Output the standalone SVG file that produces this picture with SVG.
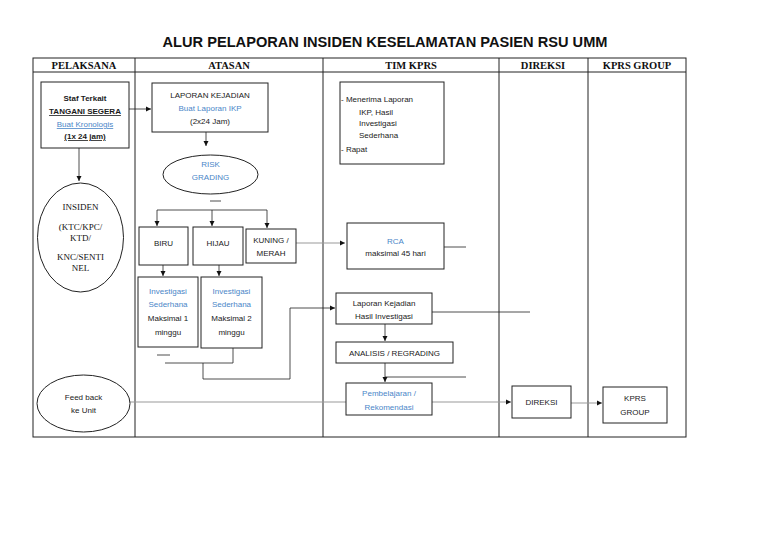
<svg xmlns="http://www.w3.org/2000/svg" width="768" height="543" viewBox="0 0 768 543">
<style>
.t{font-family:"Liberation Sans",Arial,sans-serif;font-size:8px;fill:#1a1a1a;text-anchor:middle}
.s{text-anchor:start}
.b{fill:#4a86c8}
.bold{font-weight:bold}
.hd{font-family:"Liberation Serif","Times New Roman",serif;font-size:10.5px;font-weight:bold;fill:#111;text-anchor:middle}
.sr{font-family:"Liberation Serif","Times New Roman",serif;font-size:9px;fill:#111;text-anchor:middle}
.box{fill:#fff;stroke:#222;stroke-width:1}
.grid{fill:none;stroke:#222;stroke-width:1}
.ln{fill:none;stroke:#222;stroke-width:0.8}
.gl{fill:none;stroke:#999;stroke-width:1}
</style>
<defs>
<marker id="ah" markerWidth="6" markerHeight="6" refX="5" refY="3" orient="auto" markerUnits="userSpaceOnUse">
<path d="M0,0.5 L5,3 L0,5.5 z" fill="#111"/>
</marker>
</defs>
<rect width="768" height="543" fill="#fff"/>
<text x="385" y="47" font-family="'Liberation Sans',Arial,sans-serif" font-size="14" font-weight="bold" fill="#111" text-anchor="middle" textLength="445" lengthAdjust="spacingAndGlyphs">ALUR PELAPORAN INSIDEN KESELAMATAN PASIEN RSU UMM</text>
<g id="table">
<rect class="grid" x="33" y="58" width="653" height="379"/>
<line class="grid" x1="33" y1="72" x2="686" y2="72"/>
<line class="grid" x1="135" y1="58" x2="135" y2="437"/>
<line class="grid" x1="323" y1="58" x2="323" y2="437"/>
<line class="grid" x1="499" y1="58" x2="499" y2="437"/>
<line class="grid" x1="588" y1="58" x2="588" y2="437"/>
<text class="hd" x="84" y="69">PELAKSANA</text>
<text class="hd" x="229" y="69">ATASAN</text>
<text class="hd" x="411" y="69">TIM KPRS</text>
<text class="hd" x="543" y="69">DIREKSI</text>
<text class="hd" x="637" y="69">KPRS GROUP</text>
</g>
<g id="connectors">
<line class="ln" x1="129" y1="109" x2="151" y2="109" marker-end="url(#ah)"/>
<line class="ln" x1="206" y1="132" x2="206" y2="146" marker-end="url(#ah)"/>
<line class="ln" x1="79" y1="148" x2="79" y2="181" marker-end="url(#ah)"/>
<line class="ln" x1="210" y1="201" x2="221" y2="201"/>
<line class="ln" x1="157" y1="210" x2="267" y2="210"/>
<line class="ln" x1="157" y1="210" x2="157" y2="226" marker-end="url(#ah)"/>
<line class="ln" x1="212" y1="210" x2="212" y2="226" marker-end="url(#ah)"/>
<line class="ln" x1="267" y1="210" x2="267" y2="228" marker-end="url(#ah)"/>
<line class="gl" x1="296" y1="243" x2="345" y2="243" marker-end="url(#ah)"/>
<line class="ln" x1="444" y1="247" x2="466" y2="247"/>
<line class="ln" x1="163" y1="265" x2="163" y2="276" marker-end="url(#ah)"/>
<line class="ln" x1="219" y1="265" x2="219" y2="276" marker-end="url(#ah)"/>
<line class="ln" x1="157" y1="355" x2="170" y2="355"/>
<polyline class="ln" points="233,348 233,363 165,363"/>
<polyline class="ln" points="203,363 203,379 290,379 290,308 335,308" marker-end="url(#ah)"/>
<line class="ln" x1="402" y1="312" x2="530" y2="312"/>
<line class="ln" x1="385" y1="324" x2="385" y2="341" marker-end="url(#ah)"/>
<line class="ln" x1="385" y1="363" x2="385" y2="382" marker-end="url(#ah)"/>
<line class="ln" x1="385" y1="377" x2="466" y2="377"/>
<line class="gl" x1="130" y1="402" x2="346" y2="402"/>
<line class="gl" x1="432" y1="402" x2="511" y2="402" marker-end="url(#ah)"/>
<line class="gl" x1="571" y1="403" x2="602" y2="403" marker-end="url(#ah)"/>
</g>
<g id="staf">
<rect class="box" x="41" y="82" width="88" height="66"/>
<text class="t bold" x="85" y="101">Staf Terkait</text>
<text class="t bold" x="85" y="114" text-decoration="underline">TANGANI SEGERA</text>
<text class="t b" x="85" y="127" text-decoration="underline">Buat Kronologis</text>
<text class="t bold" x="85" y="139" text-decoration="underline">(1x 24 jam)</text>
</g>
<g id="laporan">
<rect class="box" x="152" y="83" width="116" height="49"/>
<text class="t" x="210" y="98">LAPORAN KEJADIAN</text>
<text class="t b" x="210" y="111">Buat Laporan IKP</text>
<text class="t" x="210" y="124">(2x24 Jam)</text>
</g>
<g id="risk">
<ellipse class="box" cx="210.5" cy="174.5" rx="47.5" ry="19.5"/>
<text class="t b" x="210.5" y="167">RISK</text>
<text class="t b" x="210.5" y="180">GRADING</text>
</g>
<g id="insiden">
<ellipse class="box" cx="80.5" cy="237.5" rx="43" ry="54.5"/>
<text class="sr" x="80.5" y="210">INSIDEN</text>
<text class="sr" x="80.5" y="230">(KTC/KPC/</text>
<text class="sr" x="80.5" y="241">KTD/</text>
<text class="sr" x="80.5" y="260">KNC/SENTI</text>
<text class="sr" x="80.5" y="271">NEL</text>
</g>
<g id="biru">
<rect class="box" x="139" y="227" width="49" height="38"/>
<text class="t" x="163.5" y="246">BIRU</text>
</g>
<g id="hijau">
<rect class="box" x="193" y="227" width="50" height="38"/>
<text class="t" x="218" y="246">HIJAU</text>
</g>
<g id="kuning">
<rect class="box" x="246" y="229" width="50" height="34"/>
<text class="t" x="271" y="243">KUNING /</text>
<text class="t" x="271" y="256">MERAH</text>
</g>
<g id="inv1">
<rect class="box" x="138" y="277" width="60" height="70"/>
<text class="t b" x="168" y="294">Investigasi</text>
<text class="t b" x="168" y="307">Sederhana</text>
<text class="t" x="168" y="321">Maksimal 1</text>
<text class="t" x="168" y="335">minggu</text>
</g>
<g id="inv2">
<rect class="box" x="201" y="277" width="61" height="71"/>
<text class="t b" x="231.5" y="294">Investigasi</text>
<text class="t b" x="231.5" y="307">Sederhana</text>
<text class="t" x="231.5" y="321">Maksimal 2</text>
<text class="t" x="231.5" y="335">minggu</text>
</g>
<g id="feedback">
<ellipse class="box" cx="83.5" cy="403.5" rx="46.5" ry="28.5"/>
<text class="t" x="83.5" y="400">Feed back</text>
<text class="t" x="83.5" y="413">ke Unit</text>
</g>
<g id="timkprs">
<rect class="box" x="340" y="82" width="104" height="82"/>
<text class="t s" x="341" y="102">- Menerima Laporan</text>
<text class="t s" x="359" y="115">IKP, Hasil</text>
<text class="t s" x="359" y="126">Investigasi</text>
<text class="t s" x="359" y="138">Sederhana</text>
<text class="t s" x="341" y="152">- Rapat</text>
</g>
<g id="rca">
<rect class="box" x="347" y="223" width="97" height="46"/>
<text class="t b" x="395.5" y="244">RCA</text>
<text class="t" x="395.5" y="256">maksimal 45 hari</text>
</g>
<g id="hasil">
<rect class="box" x="336" y="293" width="96" height="31"/>
<text class="t" x="384" y="306">Laporan Kejadian</text>
<text class="t" x="384" y="319">Hasil Investigasi</text>
</g>
<g id="analisis">
<rect class="box" x="336" y="342" width="117" height="21"/>
<text class="t" x="394.5" y="356">ANALISIS / REGRADING</text>
</g>
<g id="pembelajaran">
<rect class="box" x="346" y="383" width="86" height="32"/>
<text class="t b" x="389" y="396">Pembelajaran /</text>
<text class="t b" x="389" y="410">Rekomendasi</text>
</g>
<g id="direksi">
<rect class="box" x="512" y="386" width="59" height="32"/>
<text class="t" x="541.5" y="405">DIREKSI</text>
</g>
<g id="kprsgroup">
<rect class="box" x="603" y="387" width="64" height="36"/>
<text class="t" x="635" y="401">KPRS</text>
<text class="t" x="635" y="415">GROUP</text>
</g>
</svg>
